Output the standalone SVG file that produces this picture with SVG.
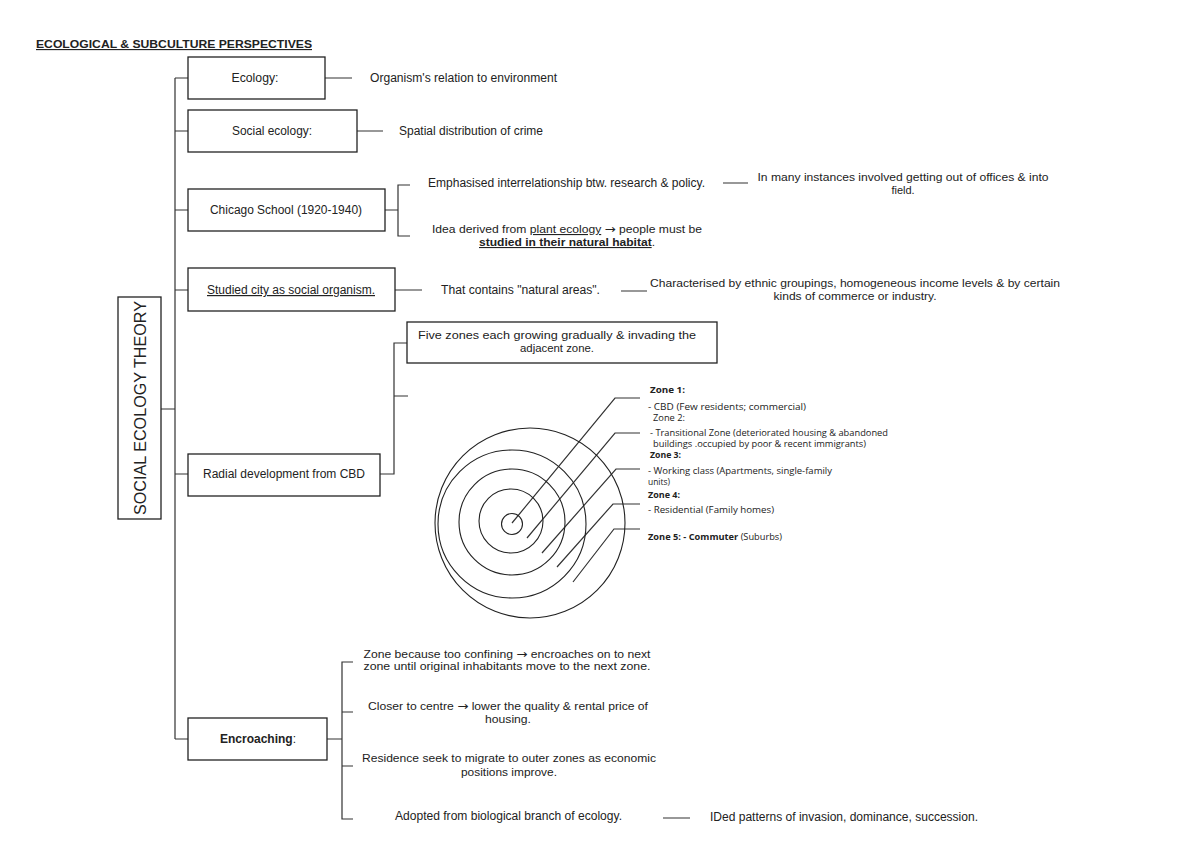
<svg xmlns="http://www.w3.org/2000/svg" width="1200" height="849" viewBox="0 0 1200 849">
<style>
.t{font-family:"Liberation Sans",Arial,sans-serif;font-size:12px;fill:#222}
.s{font-size:11px}
.m{text-anchor:middle}
.z{font-family:"Open Sans","Liberation Sans",sans-serif;font-size:8.5px;fill:#222}
.b{font-weight:bold}
.u{text-decoration:underline}
.ar{font-family:"DejaVu Sans",sans-serif;font-size:12px}
.box{fill:#fff;stroke:#222;stroke-width:1.3}
.ln{stroke:#333;stroke-width:1.2;fill:none}
.c{fill:none;stroke:#222;stroke-width:1.1}
</style>
<rect width="1200" height="849" fill="#fff"/>
<text class="t b u" x="36" y="48" style="font-size:11.5px" textLength="276" lengthAdjust="spacingAndGlyphs">ECOLOGICAL &amp; SUBCULTURE PERSPECTIVES</text>

<g id="connectors">
<path class="ln" d="M175,78 V739 M175,78 H188 M175,131 H188 M175,210 H188 M175,290 H188 M175,474 H188 M175,739 H188 M161,409 H175"/>
<path class="ln" d="M325,78 H352 M357,131 H383"/>
<path class="ln" d="M385,210 H398 M410,185 H398 V236 H410 M723,183 H748"/>
<path class="ln" d="M395,290 H422 M621,291 H647"/>
<path class="ln" d="M380,474 H394 V343 H407 M394,396 H408"/>
<path class="ln" d="M327,739 H342 M353,662 H342 V819 H353 M342,712 H353 M342,766 H353 M663,818 H690"/>
<path class="ln" d="M512,523 L615,398 H640 M527,538 L615,433 H640 M542,553 L616,469 H640 M557,567 L613,504 H640 M573,582 L614,529 H640"/>
</g>

<g id="n-title-vertical">
<rect class="box" x="118" y="297" width="43" height="222"/>
<text class="t m" x="146" y="408" style="font-size:16px" transform="rotate(-90 146 408)" textLength="214" lengthAdjust="spacingAndGlyphs">SOCIAL ECOLOGY THEORY</text>
</g>

<g id="n-ecology">
<rect class="box" x="188" y="57" width="137" height="42"/>
<text class="t m" x="255" y="82" textLength="47" lengthAdjust="spacingAndGlyphs">Ecology:</text>
</g>
<g id="n-ecology-desc"><text class="t" x="370" y="82" textLength="187" lengthAdjust="spacingAndGlyphs">Organism's relation to environment</text></g>

<g id="n-social-ecology">
<rect class="box" x="188" y="110" width="169" height="42"/>
<text class="t m" x="272" y="135" textLength="80" lengthAdjust="spacingAndGlyphs">Social ecology:</text>
</g>
<g id="n-social-desc"><text class="t" x="399" y="135" textLength="144" lengthAdjust="spacingAndGlyphs">Spatial distribution of crime</text></g>

<g id="n-chicago">
<rect class="box" x="188" y="189" width="197" height="42"/>
<text class="t m" x="286" y="214" textLength="152" lengthAdjust="spacingAndGlyphs">Chicago School (1920-1940)</text>
</g>
<g id="n-emphasised"><text class="t" x="428" y="187" textLength="277" lengthAdjust="spacingAndGlyphs">Emphasised interrelationship btw. research &amp; policy.</text></g>
<g id="n-instances">
<text class="t m s" x="903" y="181" textLength="291" lengthAdjust="spacingAndGlyphs">In many instances involved getting out of offices &amp; into</text>
<text class="t m s" x="903" y="194">field.</text>
</g>
<g id="n-idea">
<text class="t m s" x="567" y="233" textLength="270" lengthAdjust="spacingAndGlyphs">Idea derived from <tspan class="u">plant ecology</tspan> <tspan class="ar">→</tspan> people must be</text>
<text class="t m s" x="567" y="246" textLength="176" lengthAdjust="spacingAndGlyphs"><tspan class="b u">studied in their natural habitat</tspan>.</text>
</g>

<g id="n-studied">
<rect class="box" x="188" y="268" width="207" height="43"/>
<text class="t m u" x="291" y="294" textLength="168" lengthAdjust="spacingAndGlyphs">Studied city  as social organism.</text>
</g>
<g id="n-natural"><text class="t" x="441" y="294" textLength="159" lengthAdjust="spacingAndGlyphs">That contains "natural areas".</text></g>
<g id="n-characterised">
<text class="t m s" x="855" y="287" textLength="410" lengthAdjust="spacingAndGlyphs">Characterised by ethnic groupings, homogeneous income levels &amp; by certain</text>
<text class="t m s" x="855" y="300" textLength="163" lengthAdjust="spacingAndGlyphs">kinds of commerce or industry.</text>
</g>

<g id="n-radial">
<rect class="box" x="188" y="454" width="192" height="42"/>
<text class="t m" x="284" y="478" textLength="162" lengthAdjust="spacingAndGlyphs">Radial development from CBD</text>
</g>
<g id="n-five">
<rect class="box" x="407" y="322" width="310" height="41"/>
<text class="t m s" x="557" y="339" textLength="278" lengthAdjust="spacingAndGlyphs">Five zones each growing gradually &amp; invading the</text>
<text class="t m s" x="557" y="352" textLength="74" lengthAdjust="spacingAndGlyphs">adjacent zone.</text>
</g>

<g id="n-zones-diagram">
<circle class="c" cx="512" cy="524" r="10.5"/>
<circle class="c" cx="511" cy="521" r="32"/>
<circle class="c" cx="512" cy="522" r="53"/>
<circle class="c" cx="512" cy="524" r="74"/>
<circle class="c" cx="530" cy="523" r="95"/>
</g>
<g id="n-zone-labels">
<text class="z b" x="650" y="393" textLength="35" lengthAdjust="spacingAndGlyphs">Zone 1:</text>
<text class="z" x="648" y="410" textLength="158" lengthAdjust="spacingAndGlyphs">- CBD  (Few residents; commercial)</text>
<text class="z" x="653" y="421" textLength="32" lengthAdjust="spacingAndGlyphs">Zone 2:</text>
<text class="z" x="650" y="436" textLength="238" lengthAdjust="spacingAndGlyphs">- Transitional Zone (deteriorated housing &amp; abandoned</text>
<text class="z" x="653" y="447" textLength="213" lengthAdjust="spacingAndGlyphs">buildings .occupied by poor &amp; recent immigrants)</text>
<text class="z b" x="650" y="458" textLength="31" lengthAdjust="spacingAndGlyphs">Zone 3:</text>
<text class="z" x="648" y="474" textLength="184" lengthAdjust="spacingAndGlyphs">- Working class  (Apartments, single-family</text>
<text class="z" x="648" y="485" textLength="22" lengthAdjust="spacingAndGlyphs">units)</text>
<text class="z b" x="648" y="498" textLength="32" lengthAdjust="spacingAndGlyphs">Zone 4:</text>
<text class="z" x="648" y="513" textLength="126" lengthAdjust="spacingAndGlyphs">- Residential   (Family homes)</text>
<text class="z" x="648" y="540" textLength="134" lengthAdjust="spacingAndGlyphs"><tspan class="b">Zone 5: - Commuter</tspan>  (Suburbs)</text>
</g>

<g id="n-encroaching">
<rect class="box" x="188" y="718" width="139" height="42"/>
<text class="t m" x="258" y="743" textLength="76" lengthAdjust="spacingAndGlyphs"><tspan class="b">Encroaching</tspan>:</text>
</g>
<g id="n-confining">
<text class="t m s" x="507" y="658" textLength="287" lengthAdjust="spacingAndGlyphs">Zone because too confining <tspan class="ar">→</tspan> encroaches on to next</text>
<text class="t m s" x="507" y="670" textLength="287" lengthAdjust="spacingAndGlyphs">zone until original inhabitants move to the next zone.</text>
</g>
<g id="n-closer">
<text class="t m s" x="508" y="710" textLength="280" lengthAdjust="spacingAndGlyphs">Closer to centre <tspan class="ar">→</tspan> lower the quality &amp; rental price of</text>
<text class="t m s" x="508" y="723" textLength="46" lengthAdjust="spacingAndGlyphs">housing.</text>
</g>
<g id="n-residence">
<text class="t m s" x="509" y="762" textLength="294" lengthAdjust="spacingAndGlyphs">Residence seek to migrate to outer zones as economic</text>
<text class="t m s" x="509" y="776" textLength="96" lengthAdjust="spacingAndGlyphs">positions improve.</text>
</g>
<g id="n-adopted"><text class="t" x="395" y="820" textLength="227" lengthAdjust="spacingAndGlyphs">Adopted from biological branch of ecology.</text></g>
<g id="n-ided"><text class="t" x="710" y="821" textLength="268" lengthAdjust="spacingAndGlyphs">IDed patterns of invasion, dominance, succession.</text></g>
</svg>
